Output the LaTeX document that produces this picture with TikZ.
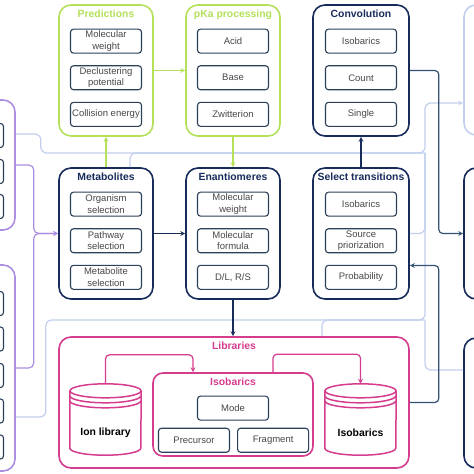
\documentclass[tikz,border=0pt]{standalone}
\usepackage{fontspec}
\setmainfont{Liberation Sans}
\usepackage{tikz}
\usetikzlibrary{positioning, calc, arrows}
\definecolor{PredGreen}{RGB}{180,224,90}
\definecolor{DeepNavy}{RGB}{24,44,92}
\definecolor{SlateNavy}{RGB}{52,82,115}
\definecolor{LibPink}{RGB}{214,60,142}
\definecolor{SrcPurple}{RGB}{172,142,226}
\definecolor{BusBlue}{RGB}{194,208,238}
\definecolor{ItemSlate}{RGB}{44,64,88}
\definecolor{ItemGray}{RGB}{72,72,72}

\begin{document}
\begin{tikzpicture}[
    x=1pt, y=1pt,
    group/.style={rectangle, rounded corners=12pt, line width=1.6pt,
                  minimum width=94pt, minimum height=131pt},
    grouptitle/.style={inner sep=0pt, text height=7.5pt, text depth=2pt,
                       font=\fontsize{10.4}{12}\selectfont\bfseries},
    item/.style={rectangle, rounded corners=3pt, draw=ItemSlate, line width=1.1pt, fill=white,
                 minimum width=71pt, minimum height=24pt, inner sep=1pt, align=center,
                 text=ItemGray, font=\fontsize{9.5}{11.5}\selectfont},
    dbase/.style={minimum width=71pt, minimum height=45pt, inner sep=0pt,
                  font=\fontsize{10.4}{12}\selectfont\bfseries},
    dbline/.style={draw=LibPink, line width=1.5pt},
    greenarrow/.style={->, >=stealth, line width=1.2pt, draw=PredGreen},
    navyarrow/.style={->, >=stealth, line width=1.2pt, draw=DeepNavy},
    slatearrow/.style={->, >=stealth, line width=1.2pt, draw=SlateNavy, rounded corners=4pt},
    pinkarrow/.style={->, >=stealth, line width=1.2pt, draw=LibPink, rounded corners=4pt},
    purplearrow/.style={->, >=stealth, line width=1.2pt, draw=SrcPurple, rounded corners=5pt},
    busline/.style={line width=1.2pt, draw=BusBlue, rounded corners=6pt},
    busarrow/.style={busline, ->, >=stealth}
]
\useasboundingbox (0,0) rectangle (474,-474);
\clip (0,0) rectangle (474,-474);
\fill[white] (0,0) rectangle (474,-474);

% Side boxes (cut by the frame)
\node[group, draw=SrcPurple, minimum height=130pt] (srcup) at (-32,-165) {};
\foreach \yy [count=\i] in {-135.5,-171.5,-206.5}
    \node[item] (srcupitem\i) at (-32,\yy) {};
\node[group, draw=SrcPurple, minimum height=206pt] (srclow) at (-32,-368) {};
\foreach \yy [count=\i] in {-303.5,-339,-375.5,-411,-447}
    \node[item] (srclowitem\i) at (-32,\yy) {};
\node[group, draw=BusBlue, minimum height=130pt] (rlight) at (511,-70) {};
\node[group, draw=DeepNavy] (rmid) at (511,-233.5) {};
\node[group, draw=DeepNavy, minimum height=130pt] (rlow) at (511,-403) {};

% Predictions
\node[group, draw=PredGreen] (pred) at (106,-70.5) {};
\node[grouptitle, text=PredGreen, below=6pt of pred.north] (predt) {Predictions};
\node[item, below=8.5pt of predt] (predmw) {Molecular\\weight};
\node[item, below=11.5pt of predmw] (preddp) {Declustering\\potential};
\node[item, below=11.5pt of preddp] (predce) {Collision energy};

% pKa processing
\node[group, draw=PredGreen] (pka) at (233,-70.5) {};
\node[grouptitle, text=PredGreen, below=6pt of pka.north] (pkat) {pKa processing};
\node[item, below=8.5pt of pkat] (pkaacid) {Acid};
\node[item, below=11.5pt of pkaacid] (pkabase) {Base};
\node[item, below=11.5pt of pkabase] (pkazw) {Zwitterion};

% Convolution
\node[group, draw=DeepNavy, minimum width=96pt] (conv) at (361,-70.5) {};
\node[grouptitle, text=DeepNavy, below=6pt of conv.north] (convt) {Convolution};
\node[item, below=8.5pt of convt] (conviso) {Isobarics};
\node[item, below=11.5pt of conviso] (convcount) {Count};
\node[item, below=11.5pt of convcount] (convsingle) {Single};

% Metabolites
\node[group, draw=DeepNavy] (metab) at (106,-233.5) {};
\node[grouptitle, text=DeepNavy, below=6pt of metab.north] (metabt) {Metabolites};
\node[item, below=8.5pt of metabt] (metaborg) {Organism\\selection};
\node[item, below=11.5pt of metaborg] (metabpath) {Pathway\\selection};
\node[item, below=11.5pt of metabpath] (metabsel) {Metabolite\\selection};

% Enantiomeres
\node[group, draw=DeepNavy] (enant) at (233,-233.5) {};
\node[grouptitle, text=DeepNavy, below=6pt of enant.north] (enantt) {Enantiomeres};
\node[item, below=8.5pt of enantt] (enantmw) {Molecular\\weight};
\node[item, below=11.5pt of enantmw] (enantmf) {Molecular\\formula};
\node[item, below=11.5pt of enantmf] (enantdl) {D/L, R/S};

% Select transitions
\node[group, draw=DeepNavy, minimum width=96pt] (seltr) at (361,-233.5) {};
\node[grouptitle, text=DeepNavy, below=6pt of seltr.north] (seltrt) {Select transitions};
\node[item, below=8.5pt of seltrt] (seltriso) {Isobarics};
\node[item, below=11.5pt of seltriso] (seltrsrc) {Source\\priorization};
\node[item, below=11.5pt of seltrsrc] (seltrprob) {Probability};

% Libraries
\node[group, draw=LibPink, minimum width=350pt] (libs) at (234,-402.5) {};
\node[grouptitle, text=LibPink, below=6pt of libs.north] (libst) {Libraries};
\node[group, draw=LibPink, rounded corners=10pt, minimum width=160pt, minimum height=83pt] (isob) at (233,-414.5) {};
\node[grouptitle, text=LibPink, below=6pt of isob.north] (isobt) {Isobarics};
\node[item, below=7.5pt of isobt] (mode) {Mode};
\node[item, below=7pt of mode, xshift=-39pt] (prec) {Precursor};
\node[item, right=7pt of prec] (frag) {Fragment};
\node[dbase] (ionlib) at (105.5,-432.5) {Ion library};
\node[dbase] (isolib) at (360.5,-432.5) {Isobarics};
\foreach \db in {ionlib, isolib} {
    \draw[dbline] ([yshift=19pt]\db.north) ellipse[x radius=35.5pt, y radius=7pt];
    \draw[dbline] ([yshift=19pt]\db.north west) -- ([yshift=7pt]\db.south west)
        arc[start angle=180, end angle=360, x radius=35.5pt, y radius=7pt] -- ([yshift=19pt]\db.north east);
    \draw[dbline] ([yshift=14pt]\db.north west) arc[start angle=180, end angle=360, x radius=35.5pt, y radius=7pt];
    \draw[dbline] ([yshift=9pt]\db.north west) arc[start angle=180, end angle=360, x radius=35.5pt, y radius=7pt];
}
\coordinate (ionlibtop) at ([yshift=26pt]ionlib.north);
\coordinate (isolibtop) at ([yshift=26pt]isolib.north);

% Light bus
\coordinate (uptrunk) at (425,-153);
\coordinate (lowtrunk) at (425,-320);
\draw[busarrow] ([yshift=31pt]srcup.east) -- ++(25,0) |- (uptrunk) -- ++(0,50) -- ([yshift=-33pt]rlight.west);
\draw[busline] ([xshift=24pt]metab.north) |- (uptrunk);
\draw[busline] (seltr.east) -| (uptrunk);
\draw[busline] ([yshift=-49pt]srclow.east) -- ++(30,0) |- (lowtrunk) -- (uptrunk);
\draw[busline] ([xshift=88pt]libs.north) |- (lowtrunk);
\draw[busline] (lowtrunk) |- ([yshift=33pt]rlow.west);

% Arrows
\draw[purplearrow] (srcup.east) -- ++(18,0) |- (metab.west);
\draw[purplearrow] (srclow.east) -- ++(18,0) |- (metab.west);
\draw[greenarrow] (metab.north) -- (pred.south);
\draw[greenarrow] (pred.east) -- (pka.west);
\draw[greenarrow] (pka.south) -- (enant.north);
\draw[navyarrow] (metab.east) -- (enant.west);
\draw[navyarrow] (seltr.north) -- (conv.south);
\draw[navyarrow] (enant.south) -- (enant.south |- libs.north);
\draw[slatearrow] (conv.east) -- ++(29,0) |- (rmid.west);
\draw[slatearrow] (libs.east) -- ++(29,0) |- ([yshift=-32pt]seltr.east);
\draw[pinkarrow] (ionlibtop) -- ++(0,29) -| ([xshift=-40pt]isob.north);
\draw[pinkarrow] ([xshift=40pt]isob.north) -- ++(0,18) -| (isolibtop);

\end{tikzpicture}
\end{document}
